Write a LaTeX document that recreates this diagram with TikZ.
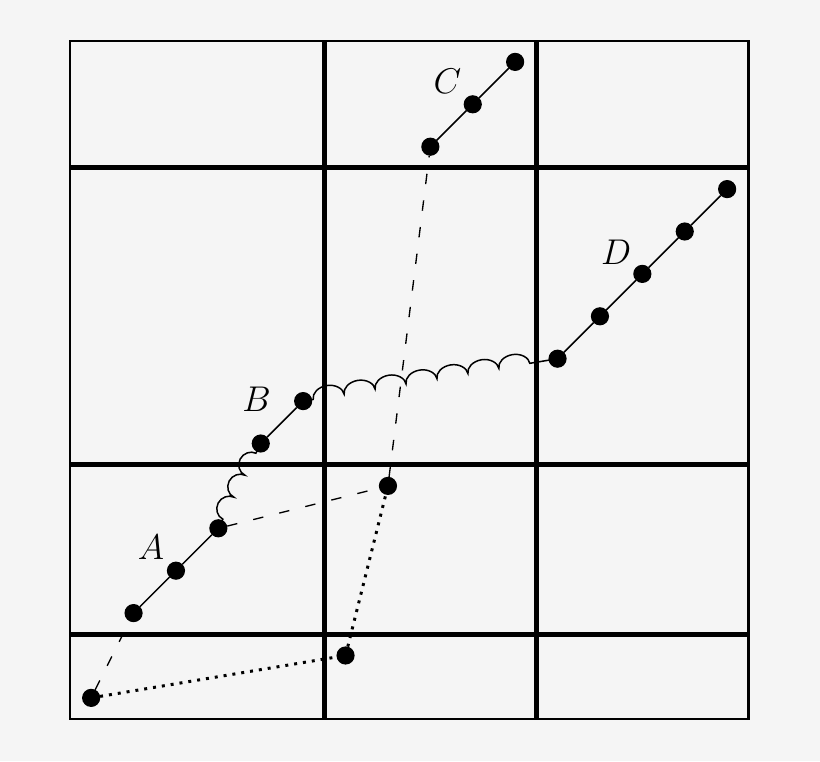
\documentclass[tikz,border=0pt]{standalone}
\usetikzlibrary{decorations.pathmorphing}
\tikzset{
    dot/.style = {circle, fill=black, draw=black, inner sep=0pt, minimum size=0.2cm},
    lbl/.style = {inner sep=0pt, font=\large},
    wall/.style = {line width=1.65pt},
    frame/.style = {line width=0.8pt},
    bond/.style = {line width=0.5pt},
    wiggle/.style = {line width=0.5pt, decorate, decoration={bumps, segment length=#1, amplitude=0.135cm, pre length=0.12cm, post length=0.12cm}},
    wiggle/.default = 0.74cm,
    link/.style = {line width=0.45pt, dash pattern=on 3.5pt off 5.5pt},
    hop/.style = {line width=1pt, dash pattern=on 1pt off 2pt}
}
\begin{document}
\begin{tikzpicture}[x=0.5cm, y=0.5cm]
    \fill[white!96!black] (-2.15,-1.49) rectangle (17.19,16.46);
    \useasboundingbox (-2.15,-1.49) rectangle (17.19,16.46);

    % cells
    \draw[frame] (-0.5,-0.5) rectangle (15.5,15.5);
    \foreach \x in {5.5, 10.5}
        \draw[wall] (\x,-0.5) -- (\x,15.5);
    \foreach \y in {1.5, 5.5, 12.5}
        \draw[wall] (-0.5,\y) -- (15.5,\y);

    % sites
    \node[dot] (o) at (0,0) {};
    \node[dot] (a1) at (1,2) {};
    \node[dot] (a2) at (2,3) {};
    \node[dot] (a3) at (3,4) {};
    \node[dot] (b1) at (4,6) {};
    \node[dot] (b2) at (5,7) {};
    \node[dot] (p) at (6,1) {};
    \node[dot] (q) at (7,5) {};
    \node[dot] (c1) at (8,13) {};
    \node[dot] (c2) at (9,14) {};
    \node[dot] (c3) at (10,15) {};
    \node[dot] (d1) at (11,8) {};
    \node[dot] (d2) at (12,9) {};
    \node[dot] (d3) at (13,10) {};
    \node[dot] (d4) at (14,11) {};
    \node[dot] (d5) at (15,12) {};

    \node[lbl] (la) at (1.41,3.55) {$A$};
    \node[lbl] (lb) at (3.9,7.04) {$B$};
    \node[lbl] (lc) at (8.4,14.54) {$C$};
    \node[lbl] (ld) at (12.38,10.52) {$D$};

    % chains
    \draw[bond] (a1) -- (a2) -- (a3);
    \draw[bond] (b1) -- (b2);
    \draw[bond] (c1) -- (c2) -- (c3);
    \draw[bond] (d1) -- (d2) -- (d3) -- (d4) -- (d5);

    % springs
    \draw[wiggle=0.58cm] (a3.center) -- (b1.center);
    \draw[wiggle] (b2.center) -- (d1.center);

    % links
    \draw[link] (o) -- (a1);
    \draw[link] (a3) -- (q);
    \draw[link] (q) -- (c1);
    \draw[hop] (o) -- (p);
    \draw[hop] (p) -- (q);
\end{tikzpicture}
\end{document}
